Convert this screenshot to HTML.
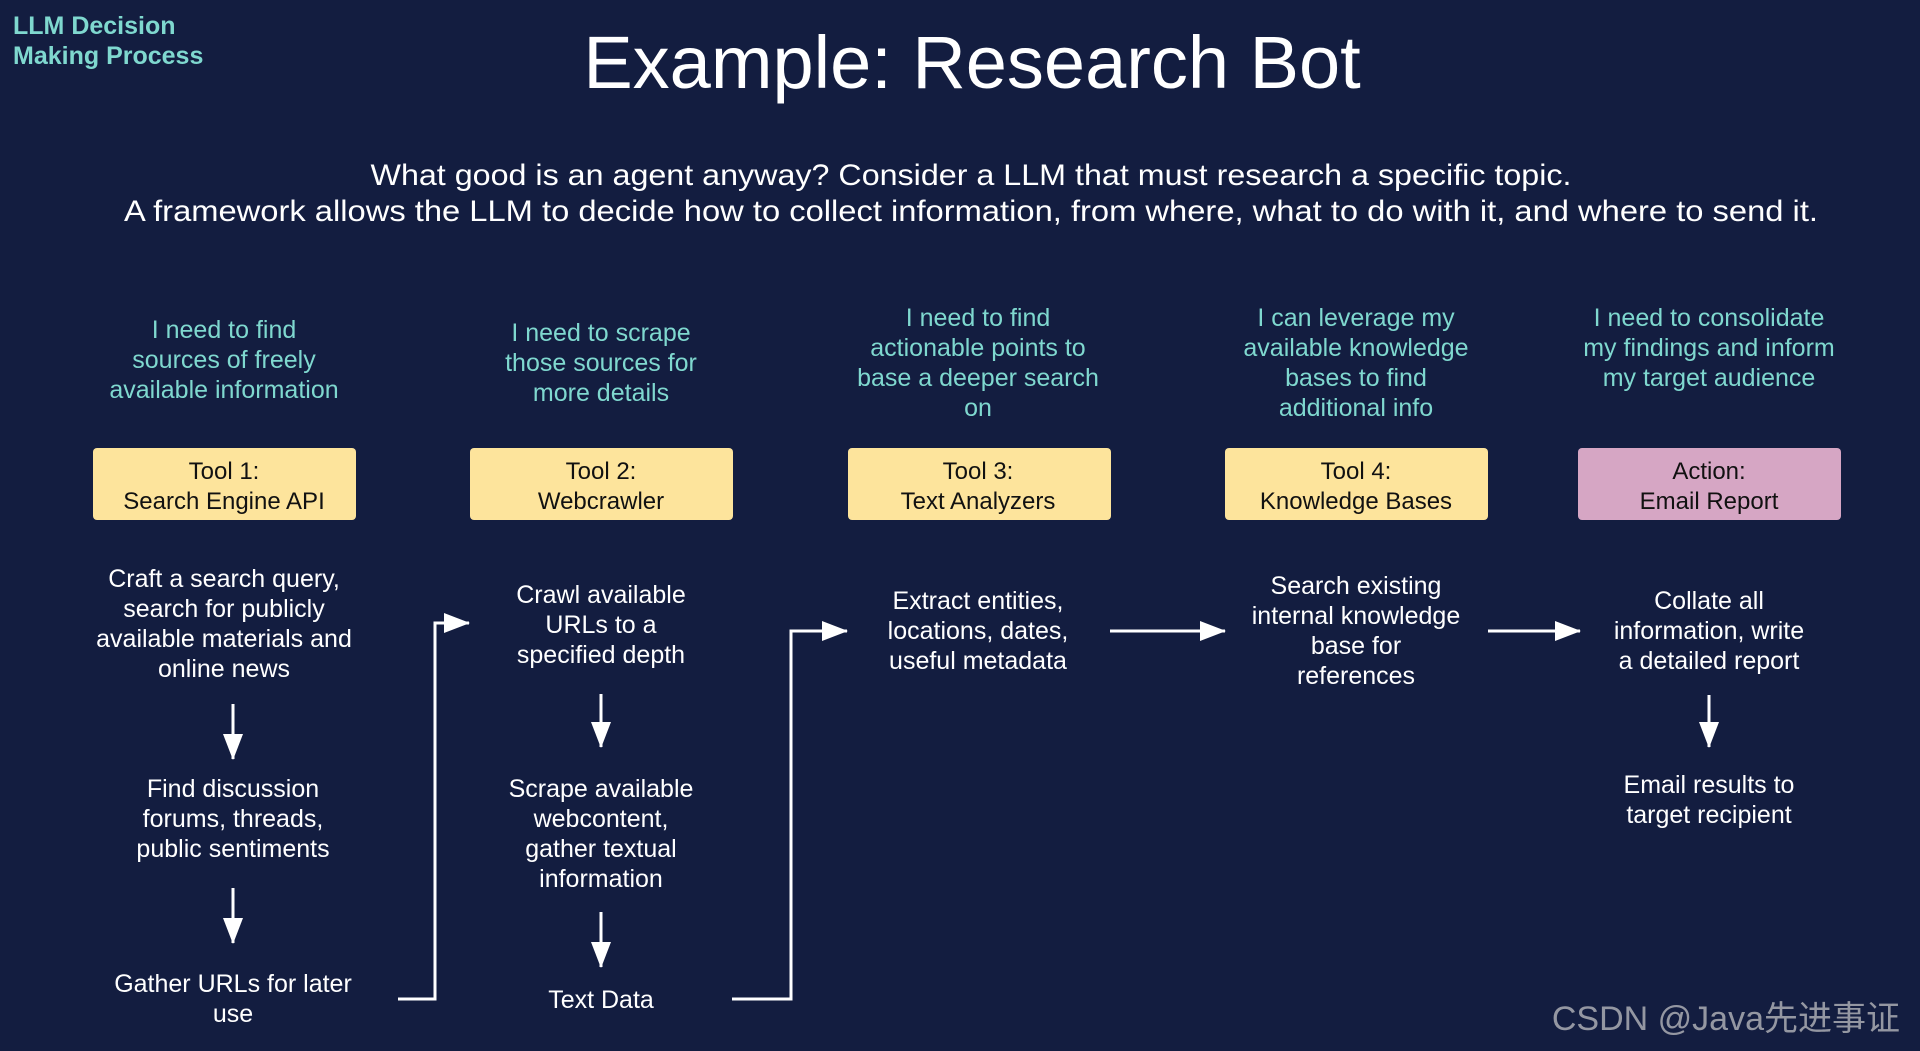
<!DOCTYPE html>
<html><head><meta charset="utf-8"><style>
html,body{margin:0;padding:0;background:#131d40;}
svg{display:block}
</style></head><body>
<svg width="1920" height="1051" viewBox="0 0 1920 1051" xmlns="http://www.w3.org/2000/svg" font-family="Liberation Sans, sans-serif">
<defs>
<marker id="b" markerWidth="26" markerHeight="20" refX="25" refY="10" orient="auto" markerUnits="userSpaceOnUse" viewBox="0 0 26 20"><path d="M0,0 L26,10 L0,20 z" fill="#fff"/></marker></defs>
<rect width="1920" height="1051" fill="#131d40"/>
<g fill="#7fd8cf" font-weight="bold" font-size="25"><text x="13" y="34">LLM Decision</text><text x="13" y="64">Making Process</text></g>
<text x="972" y="88" fill="#fff" font-size="74" text-anchor="middle">Example: Research Bot</text>
<g fill="#fff" font-size="30" text-anchor="middle"><text x="971" y="185" textLength="1201" lengthAdjust="spacingAndGlyphs">What good is an agent anyway? Consider a LLM that must research a specific topic.</text><text x="971" y="221" textLength="1694" lengthAdjust="spacingAndGlyphs">A framework allows the LLM to decide how to collect information, from where, what to do with it, and where to send it.</text></g>
<g fill="#7fd8cf" font-size="25" text-anchor="middle">
<text x="224" y="338">I need to find</text><text x="224" y="368">sources of freely</text><text x="224" y="398">available information</text>
<text x="601" y="341">I need to scrape</text><text x="601" y="371">those sources for</text><text x="601" y="401">more details</text>
<text x="978" y="326">I need to find</text><text x="978" y="356">actionable points to</text><text x="978" y="386">base a deeper search</text><text x="978" y="416">on</text>
<text x="1356" y="326">I can leverage my</text><text x="1356" y="356">available knowledge</text><text x="1356" y="386">bases to find</text><text x="1356" y="416">additional info</text>
<text x="1709" y="326">I need to consolidate</text><text x="1709" y="356">my findings and inform</text><text x="1709" y="386">my target audience</text>
</g>
<g><rect x="93" y="448" width="263" height="72" rx="4" fill="#fde49c"/><rect x="470" y="448" width="263" height="72" rx="4" fill="#fde49c"/><rect x="848" y="448" width="263" height="72" rx="4" fill="#fde49c"/><rect x="1225" y="448" width="263" height="72" rx="4" fill="#fde49c"/><rect x="1578" y="448" width="263" height="72" rx="4" fill="#d6a6c4"/></g>
<g fill="#111" font-size="24" text-anchor="middle">
<text x="224" y="479">Tool 1:</text><text x="224" y="509">Search Engine API</text>
<text x="601" y="479">Tool 2:</text><text x="601" y="509">Webcrawler</text>
<text x="978" y="479">Tool 3:</text><text x="978" y="509">Text Analyzers</text>
<text x="1356" y="479">Tool 4:</text><text x="1356" y="509">Knowledge Bases</text>
<text x="1709" y="479">Action:</text><text x="1709" y="509">Email Report</text>
</g>
<g fill="#fff" font-size="25" text-anchor="middle">
<text x="224" y="587">Craft a search query,</text><text x="224" y="617">search for publicly</text><text x="224" y="647">available materials and</text><text x="224" y="677">online news</text>
<text x="233" y="797">Find discussion</text><text x="233" y="827">forums, threads,</text><text x="233" y="857">public sentiments</text>
<text x="233" y="992">Gather URLs for later</text><text x="233" y="1022">use</text>
<text x="601" y="603">Crawl available</text><text x="601" y="633">URLs to a</text><text x="601" y="663">specified depth</text>
<text x="601" y="797">Scrape available</text><text x="601" y="827">webcontent,</text><text x="601" y="857">gather textual</text><text x="601" y="887">information</text>
<text x="601" y="1008">Text Data</text>
<text x="978" y="609">Extract entities,</text><text x="978" y="639">locations, dates,</text><text x="978" y="669">useful metadata</text>
<text x="1356" y="594">Search existing</text><text x="1356" y="624">internal knowledge</text><text x="1356" y="654">base for</text><text x="1356" y="684">references</text>
<text x="1709" y="609">Collate all</text><text x="1709" y="639">information, write</text><text x="1709" y="669">a detailed report</text>
<text x="1709" y="793">Email results to</text><text x="1709" y="823">target recipient</text>
</g>
<g stroke="#fff" stroke-width="3" fill="none">
<line x1="233" y1="704" x2="233" y2="759" marker-end="url(#b)"/>
<line x1="233" y1="888" x2="233" y2="943" marker-end="url(#b)"/>
<line x1="601" y1="694" x2="601" y2="747" marker-end="url(#b)"/>
<line x1="601" y1="912" x2="601" y2="967" marker-end="url(#b)"/>
<line x1="1709" y1="695" x2="1709" y2="747" marker-end="url(#b)"/>
<polyline points="398,999 435,999 435,623 469,623" marker-end="url(#b)"/>
<polyline points="732,999 791,999 791,631 847,631" marker-end="url(#b)"/>
<line x1="1110" y1="631" x2="1225" y2="631" marker-end="url(#b)"/>
<line x1="1488" y1="631" x2="1580" y2="631" marker-end="url(#b)"/>
</g>
<text x="1900" y="1030" fill="#ccc" fill-opacity="0.7" font-size="34" text-anchor="end" font-family="Liberation Sans, Noto Sans CJK SC, sans-serif">CSDN @Java先进事证</text>
</svg>
</body></html>
